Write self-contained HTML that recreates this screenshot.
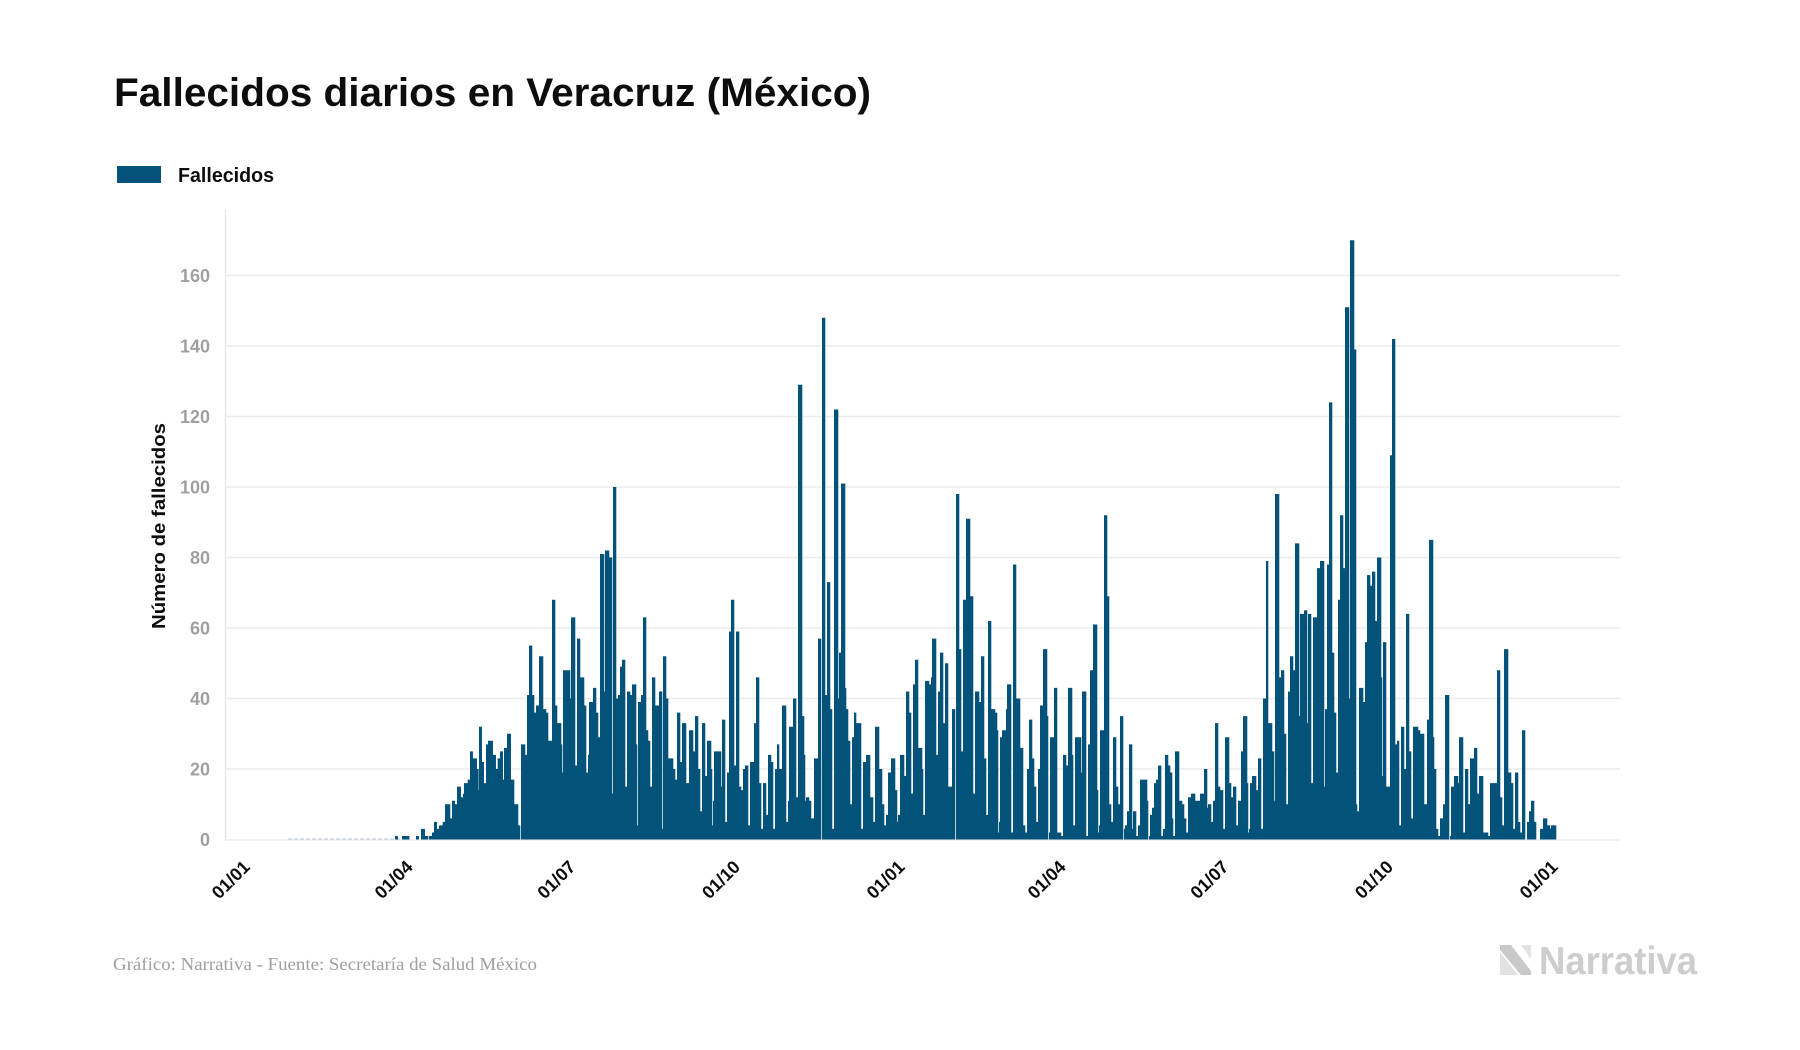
<!DOCTYPE html>
<html>
<head>
<meta charset="utf-8">
<style>
  html,body{margin:0;padding:0;background:#fff;}
  body{width:1800px;height:1050px;overflow:hidden;}
  svg{display:block;}
</style>
</head>
<body>
<svg id="chart" xmlns="http://www.w3.org/2000/svg" width="1800" height="1050" viewBox="0 0 1800 1050">
  <rect x="0" y="0" width="1800" height="1050" fill="#ffffff"/>
  <!-- Title -->
  <text x="114" y="106" font-family="'Liberation Sans', sans-serif" font-weight="bold" font-size="40" fill="#0d0d0d" textLength="757" lengthAdjust="spacingAndGlyphs">Fallecidos diarios en Veracruz (México)</text>
  <!-- Legend -->
  <rect x="117" y="166" width="44" height="17" fill="#03527a"/>
  <text x="178" y="182" font-family="'Liberation Sans', sans-serif" font-weight="bold" font-size="20" fill="#0d0d0d" textLength="96" lengthAdjust="spacingAndGlyphs">Fallecidos</text>
  <!-- Y axis title -->
  <text transform="translate(165,526) rotate(-90)" text-anchor="middle" font-family="'Liberation Sans', sans-serif" font-weight="bold" font-size="18" fill="#0d0d0d" textLength="206" lengthAdjust="spacingAndGlyphs">Número de fallecidos</text>
  <g id="grid"></g>
  <!-- y axis line -->
  <line x1="225.5" y1="209" x2="225.5" y2="841" stroke="#e8e8e8" stroke-width="1.5"/>
  <!-- zero dashes -->
  <line x1="288" y1="839" x2="410" y2="839" stroke="#c3cfd9" stroke-width="1.3" stroke-dasharray="4 2"/>
  <g id="bars" fill="#03527a"></g>
  <g id="ylabels" font-family="'Liberation Sans', sans-serif" font-weight="bold" font-size="18" fill="#a0a0a0" text-anchor="end"></g>
  <g id="xlabels" font-family="'Liberation Sans', sans-serif" font-weight="bold" font-size="18" fill="#0d0d0d" text-anchor="end"></g>
  <!-- Footer -->
  <text x="113" y="970" font-family="'Liberation Serif', serif" font-size="18" fill="#9f9f9f" textLength="424" lengthAdjust="spacingAndGlyphs">Gráfico: Narrativa - Fuente: Secretaría de Salud México</text>
  <!-- Logo -->
  <g>
    <polygon points="1500,945 1511,945 1531,971 1531,975 1521,975 1500,950" fill="#c9c9c9"/>
    <polygon points="1500,952 1518,975 1500,975" fill="#e2e2e2"/>
    <polygon points="1521,945 1531,945 1531,959" fill="#e2e2e2"/>
  </g>
  <text x="1539" y="974" font-family="'Liberation Sans', sans-serif" font-weight="bold" font-size="39" fill="#cdcdcd" textLength="158" lengthAdjust="spacingAndGlyphs">Narrativa</text>
</svg>
<script>
(function(){
  var NS="http://www.w3.org/2000/svg";
  var Y0=839.5, K=3.525;
  function el(name, attrs, parent, txt){
    var e=document.createElementNS(NS,name);
    for(var k in attrs) e.setAttribute(k, attrs[k]);
    if(txt!==undefined) e.textContent=txt;
    parent.appendChild(e); return e;
  }
  var grid=document.getElementById('grid');
  var yl=document.getElementById('ylabels');
  for(var v=0; v<=160; v+=20){
    var y=Y0 - v*K + (v===0?0.6:0);
    el('line',{x1:225,y1:y,x2:1620,y2:y,stroke:'#ececec','stroke-width':1.6},grid);
    el('text',{x:210,y:(Y0 - v*K + 6.5)},yl,String(v));
  }
  var xl=document.getElementById('xlabels');
  var days=[0,91,182,274,366,456,547,639,731];
  var names=['01/01','01/04','01/07','01/10','01/01','01/04','01/07','01/10','01/01'];
  for(var i=0;i<days.length;i++){
    var tx=249+1.789*days[i]+2;
    el('text',{transform:'translate('+tx.toFixed(1)+',868) rotate(-45)'},xl,names[i]);
  }
  var chunks=[
  [280,[[345,353,1],[366,387,1],[408,416,1],[423,434,3],[434,444,1],[447,456,1],[456,462,2],[462,470,5],[470,477,3],[477,488,4],[488,495,5],[495,510,10],[510,516,6],[516,524,11],[524,531,10],[531,542,15],[542,549,12],[549,552,13],[552,563,16],[563,570,17],[570,578,25],[578,590,23],[590,595,20],[595,597,14],[597,605,32],[605,611,22],[611,618,16],[618,624,27],[624,638,28],[638,647,24],[647,653,20],[653,660,23],[660,668,25],[668,672,17],[672,681,26],[681,692,30],[692,702,17],[702,714,10],[714,720,4],[723,735,27],[735,741,24],[741,747,41],[747,750,55]]],
  [530,[[0,6,55],[6,12,41],[12,18,36],[18,27,38],[27,39,52],[39,48,37],[48,54,36],[54,66,28],[66,75,68],[75,81,38],[81,93,33],[93,96,27],[96,99,19],[99,120,48],[120,123,40],[123,135,63],[135,141,21],[141,150,57],[150,162,46],[162,168,38],[168,174,19],[174,177,24],[177,189,39],[189,198,43],[198,204,36],[204,210,29],[210,222,81],[222,225,42],[225,237,82],[237,246,80],[246,249,13],[249,258,100],[258,264,40],[264,270,41],[270,276,49],[276,285,51],[285,291,15],[291,300,42],[300,306,41],[306,318,44],[318,321,27],[321,324,4],[324,333,39],[333,339,41],[339,348,63],[348,354,31],[354,360,28],[360,366,15],[366,375,46],[375,387,38],[387,396,42],[396,399,3],[399,408,52],[408,414,40],[414,429,23],[429,435,20],[435,441,17],[441,450,36],[450,456,22],[456,468,33],[468,477,16],[477,489,31],[489,495,25],[495,504,35],[504,510,20],[510,516,8],[516,525,33],[525,531,18],[531,543,28],[543,546,20],[546,549,4],[549,552,11],[552,573,25],[573,576,15],[576,585,34],[585,591,5],[591,597,19],[597,603,59],[603,612,68],[612,618,21],[618,627,59],[627,633,15],[633,639,14],[639,645,20],[645,654,21],[654,660,4],[660,672,22],[672,678,33],[678,687,46],[687,693,16],[693,699,3],[699,708,16],[708,714,7],[714,723,24],[723,729,22],[729,735,3],[735,741,20],[741,747,27],[747,756,20],[756,768,38],[768,774,5],[774,777,11],[777,780,32]]],
  [780,[[30,39,32],[39,48,40],[48,54,12],[54,66,129],[66,72,35],[72,75,24],[75,78,11],[78,87,12],[87,93,11],[93,102,6],[102,114,23],[114,123,57],[126,135,148],[135,141,41],[141,150,73],[150,156,37],[156,162,3],[162,174,122],[174,177,40],[177,183,53],[183,195,101],[195,198,43],[198,204,37],[204,210,28],[210,216,10],[216,222,29],[222,228,36],[228,243,33],[243,249,3],[249,258,22],[258,270,24],[270,279,12],[279,285,5],[285,297,32],[297,306,20],[306,312,10],[312,318,4],[318,324,7],[324,333,19],[333,345,23],[345,351,14],[351,354,5],[354,360,7],[360,372,24],[372,378,18],[378,387,42],[387,393,36],[393,399,13],[399,405,44],[405,414,51],[414,426,26],[426,429,20],[429,435,7],[435,447,45],[447,453,44],[453,456,46],[456,468,57],[468,474,24],[474,480,42],[480,489,53],[489,495,33],[495,504,50],[504,516,15],[516,525,37],[528,537,98],[537,543,54],[543,549,25],[549,558,68],[558,570,91],[570,579,69],[579,585,13],[585,597,42],[597,603,39],[603,612,52],[612,618,23],[618,624,7],[624,633,62],[633,645,37],[645,651,36],[651,654,31],[654,657,2],[657,660,5],[660,666,29],[666,678,31],[678,681,37],[681,693,44],[693,699,2],[699,708,78],[708,720,40],[720,729,26],[729,735,4],[735,741,2],[741,747,20],[747,756,34],[756,762,23],[762,768,15],[768,774,5],[774,780,20]]],
  [1030,[[30,39,38],[39,51,54],[51,54,35],[57,60,2],[60,72,29],[72,81,43],[81,93,2],[93,99,1],[99,108,24],[108,114,21],[114,126,43],[126,129,24],[129,135,4],[135,153,29],[153,156,19],[156,168,42],[168,174,1],[174,180,27],[180,189,48],[189,201,61],[201,204,14],[204,207,2],[207,210,4],[210,222,31],[222,231,92],[231,237,69],[237,243,10],[243,249,5],[249,258,29],[258,264,15],[264,270,10],[270,279,35],[282,285,3],[285,291,4],[291,297,8],[297,306,27],[306,309,3],[309,318,8],[318,324,1],[324,330,4],[330,351,17],[351,354,11],[357,360,1],[360,366,7],[366,372,9],[372,378,16],[378,384,17],[384,393,21],[393,399,1],[399,405,3],[405,414,24],[414,420,21],[420,426,19],[426,429,6],[429,435,1],[435,447,25],[447,456,11],[456,462,10],[462,468,6],[468,474,2],[474,483,12],[483,495,13],[495,510,11],[510,522,13],[522,531,20],[531,534,9],[534,543,10],[543,549,5],[549,555,11],[555,564,33],[564,570,15],[570,579,14],[579,585,3],[585,597,29],[597,603,16],[603,609,12],[609,618,15],[618,624,4],[624,633,11],[633,639,25],[639,651,35],[651,654,16],[654,657,2],[657,660,3],[660,666,16],[666,678,18],[678,684,14],[684,693,23],[693,699,3],[699,708,40],[708,714,79],[714,726,33],[726,732,25],[732,735,11],[735,747,98],[747,753,46],[753,762,48],[762,768,30],[768,774,10],[774,780,42]]],
  [1280,[[30,39,52],[39,45,48],[45,57,84],[57,60,35],[60,72,64],[72,81,65],[81,84,33],[84,93,64],[93,99,16],[99,111,63],[111,120,77],[120,132,79],[132,135,15],[135,141,37],[141,147,78],[147,156,124],[156,162,53],[162,168,36],[168,174,19],[174,180,68],[180,189,92],[189,195,77],[195,207,151],[207,210,40],[210,222,170],[222,228,139],[228,231,10],[231,237,8],[237,249,43],[249,255,39],[255,261,56],[261,270,75],[270,276,72],[276,285,76],[285,291,62],[291,303,80],[303,306,46],[306,309,18],[309,318,56],[318,330,15],[330,336,109],[336,345,142],[345,351,27],[351,357,28],[357,363,4],[363,372,32],[372,378,20],[378,387,64],[387,393,25],[393,399,6],[399,414,32],[414,420,31],[420,432,30],[432,441,10],[441,447,34],[447,459,85],[459,462,29],[462,468,20],[468,474,3],[474,480,1],[480,489,6],[489,495,10],[495,507,41],[510,513,1],[513,522,15],[522,534,18],[534,537,16],[537,549,29],[549,555,2],[555,564,20],[564,570,10],[570,582,23],[582,591,26],[591,597,13],[597,600,18]]],
  [1470,[[30,39,18],[39,54,2],[54,60,1],[60,81,16],[81,90,48],[90,96,12],[96,102,4],[102,114,54],[114,123,19],[123,129,16],[129,135,3],[135,144,19],[144,150,5],[150,156,2],[156,165,31],[171,177,5],[177,183,8],[183,192,11],[192,198,5],[210,219,3],[219,231,6],[231,240,4],[240,243,3],[243,258,4]]]
  ];
  var bars=document.getElementById('bars');
  var d='';
  for(var c=0;c<chunks.length;c++){
    var x0=chunks[c][0], arr=chunks[c][1];
    for(var j=0;j<arr.length;j++){
      var a=arr[j][0], b=arr[j][1], val=arr[j][2];
      var x=x0+a/3, w=(b-a)/3+0.3, h=val*K;
      d+='M'+x.toFixed(2)+' '+Y0+'v'+(-h).toFixed(2)+'h'+w.toFixed(2)+'v'+h.toFixed(2)+'z';
    }
  }
  el('path',{d:d},bars);
})();
</script>
</body>
</html>
